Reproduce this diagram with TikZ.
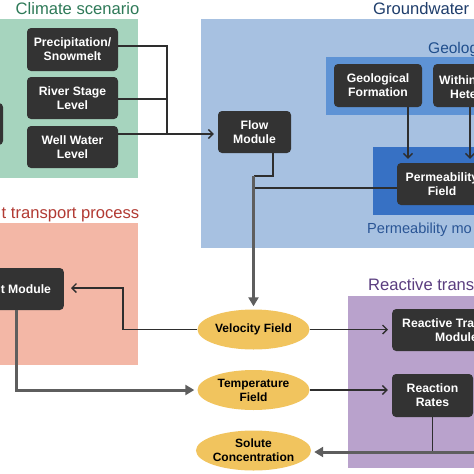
\documentclass[tikz,border=0pt]{standalone}
\usepackage{fontspec}
\setmainfont{Liberation Sans}
\usetikzlibrary{arrows.meta,shapes.geometric}
\definecolor{climfill}{HTML}{A6D4BE}
\definecolor{climtitle}{HTML}{2E7A58}
\definecolor{gwfill}{HTML}{A7C1E1}
\definecolor{geofill}{HTML}{5E93D5}
\definecolor{permfill}{HTML}{3771C4}
\definecolor{gwtitle}{HTML}{1F3E6C}
\definecolor{geotitle}{HTML}{1F4E8C}
\definecolor{permtitle}{HTML}{2A5595}
\definecolor{trfill}{HTML}{F3B7A6}
\definecolor{trtitle}{HTML}{B23A33}
\definecolor{rxfill}{HTML}{B9A2CC}
\definecolor{rxtitle}{HTML}{5B3E80}
\definecolor{boxdark}{HTML}{333333}
\definecolor{ellfill}{HTML}{F1C45E}
\definecolor{linedark}{HTML}{2E2E2E}
\definecolor{linegray}{HTML}{5E5E5E}
\begin{document}
\begin{tikzpicture}[x=1pt,y=-1pt,
  dbox/.style={rectangle, rounded corners=4pt, fill=boxdark, text=white,
    font=\bfseries\fontsize{12.2}{14}\selectfont, align=center, inner sep=0pt},
  ell/.style={ellipse, fill=ellfill, text=black,
    font=\bfseries\fontsize{12}{14}\selectfont, align=center, inner sep=0pt,
    minimum width=112pt, minimum height=40pt},
  ttl/.style={anchor=base west, inner sep=0pt, font=\fontsize{16.6}{18}\selectfont},
  frag/.style={anchor=west, inner sep=0pt, text=white,
    font=\bfseries\fontsize{12.2}{14}\selectfont},
  conn/.style={draw=linedark, line width=1.3pt},
  arr/.style={-{Straight Barb[length=4.5pt,width=9pt]}, shorten >=4pt},
  grayarrow/.style={draw=linegray, line width=3pt, -{Triangle[length=9pt,width=10pt]}, shorten >=3pt},
  grayline/.style={draw=linegray, line width=3pt},
]
\useasboundingbox (0,0) rectangle (474,474);
\clip (0,0) rectangle (474,474);
% regions
\fill[white] (0,0) rectangle (474,474);
\fill[climfill] (-10,19) rectangle (138,178);
\fill[gwfill] (201,19) rectangle (500,248);
\fill[geofill] (326,57) rectangle (500,115);
\fill[permfill] (373,147) rectangle (500,215);
\fill[trfill] (-10,223) rectangle (138,365);
\fill[rxfill] (348,296) rectangle (500,468);
% titles
\node[ttl, text=climtitle] (tclim) at (15.5,14.5) {Climate scenario};
\node[ttl, text=gwtitle] (tgw) at (373,14.5) {Groundwater};
\node[ttl, text=geotitle, font=\fontsize{15.5}{18}\selectfont] (tgeo) at (428,53.5) {Geolog};
\node[ttl, text=permtitle, font=\fontsize{14.6}{17}\selectfont] (tperm) at (367,233) {Permeability mo};
\node[ttl, text=trtitle] (ttr) at (1.5,218) {t transport process};
\node[ttl, text=rxtitle] (trx) at (368,290.5) {Reactive trans};
% boxes
\node[dbox, minimum width=83pt, minimum height=42pt] (leftbox) at (-38.5,124) {};
\node[dbox, minimum width=91pt, minimum height=43pt] (precip) at (72.5,49.5) {Precipitation/\\Snowmelt};
\node[dbox, minimum width=91pt, minimum height=42pt] (river) at (72.5,98) {River Stage\\Level};
\node[dbox, minimum width=91pt, minimum height=42pt] (well) at (72.5,147) {Well Water\\Level};
\node[dbox, minimum width=73pt, minimum height=42pt] (flow) at (254.5,132) {Flow\\Module};
\node[dbox, minimum width=88pt, minimum height=43pt] (geoform) at (378,85.5) {Geological\\Formation};
\node[dbox, minimum width=82pt, minimum height=43pt, anchor=west] (within) at (433,85.5) {};
\node[frag] (withint) at (439,80) {Within};
\node[frag] (hetet) at (450,94) {Hete};
\node[dbox, minimum width=90pt, minimum height=42pt] (permfield) at (442,184) {Permeability\\Field};
\node[dbox, minimum width=170pt, minimum height=42pt, anchor=east] (tmodule) at (64,289) {};
\node[frag] (tmodt) at (0.6,289) {t Module};
\node[ell] (velocity) at (253.5,329.5) {Velocity Field};
\node[ell] (temperature) at (253.5,390) {Temperature\\Field};
\node[ell] (solute) at (253.5,450.5) {Solute\\Concentration};
\node[dbox, minimum width=132pt, minimum height=42pt, anchor=west] (rtm) at (392,330) {};
\node[frag] (rtmt1) at (402,323) {Reactive Tra};
\node[frag] (rtmt2) at (435,337) {Module};
\node[dbox, minimum width=81pt, minimum height=43pt] (rrates) at (432.5,395.5) {Reaction\\Rates};
% connectors: climate -> flow
\coordinate (j1) at (167,46);
\coordinate (j2) at (167,99);
\coordinate (j3) at (167,134);
\draw[conn] (precip.east |- j1) -- (j1) -- (j3);
\draw[conn] (river.east |- j2) -- (j2);
\draw[conn, arr] (well.east |- j3) -- (flow.west |- j3);
% flow -> velocity
\coordinate (fa) at (273,176);
\coordinate (fb) at (253.5,176);
\coordinate (pj) at (253.5,188);
\draw[conn] (flow.south -| fa) -- (fa) -- (fb);
\draw[conn] (permfield.west |- pj) -- (pj);
\draw[grayarrow] (fb) -- (velocity.north);
% geology -> permeability field
\coordinate (ga) at (408,0);
\coordinate (wa) at (470,0);
\draw[conn, arr] (geoform.south -| ga) -- (permfield.north -| ga);
\draw[conn, arr] (within.south -| wa) -- (permfield.north -| wa);
% velocity -> transport module
\coordinate (va) at (123,329.5);
\coordinate (vb) at (123,288);
\draw[conn, arr, shorten >=7pt] (velocity.west) -- (va) -- (vb) -- (tmodule.east |- vb);
% transport module -> temperature
\coordinate (ta) at (16,390);
\draw[grayarrow] (tmodule.south -| ta) -- (ta) -- (temperature.west);
% velocity/temperature -> reactive
\draw[conn, arr] (velocity.east) -- (rtm.west |- velocity.east);
\draw[conn, arr] (temperature.east) -- (rrates.west |- temperature.east);
% reaction rates -> solute
\coordinate (ra) at (432.5,452);
\coordinate (rb) at (480,452);
\draw[conn] (rrates.south) -- (ra);
\draw[grayarrow] (rb) -- (solute.east |- ra);
\end{tikzpicture}
\end{document}
